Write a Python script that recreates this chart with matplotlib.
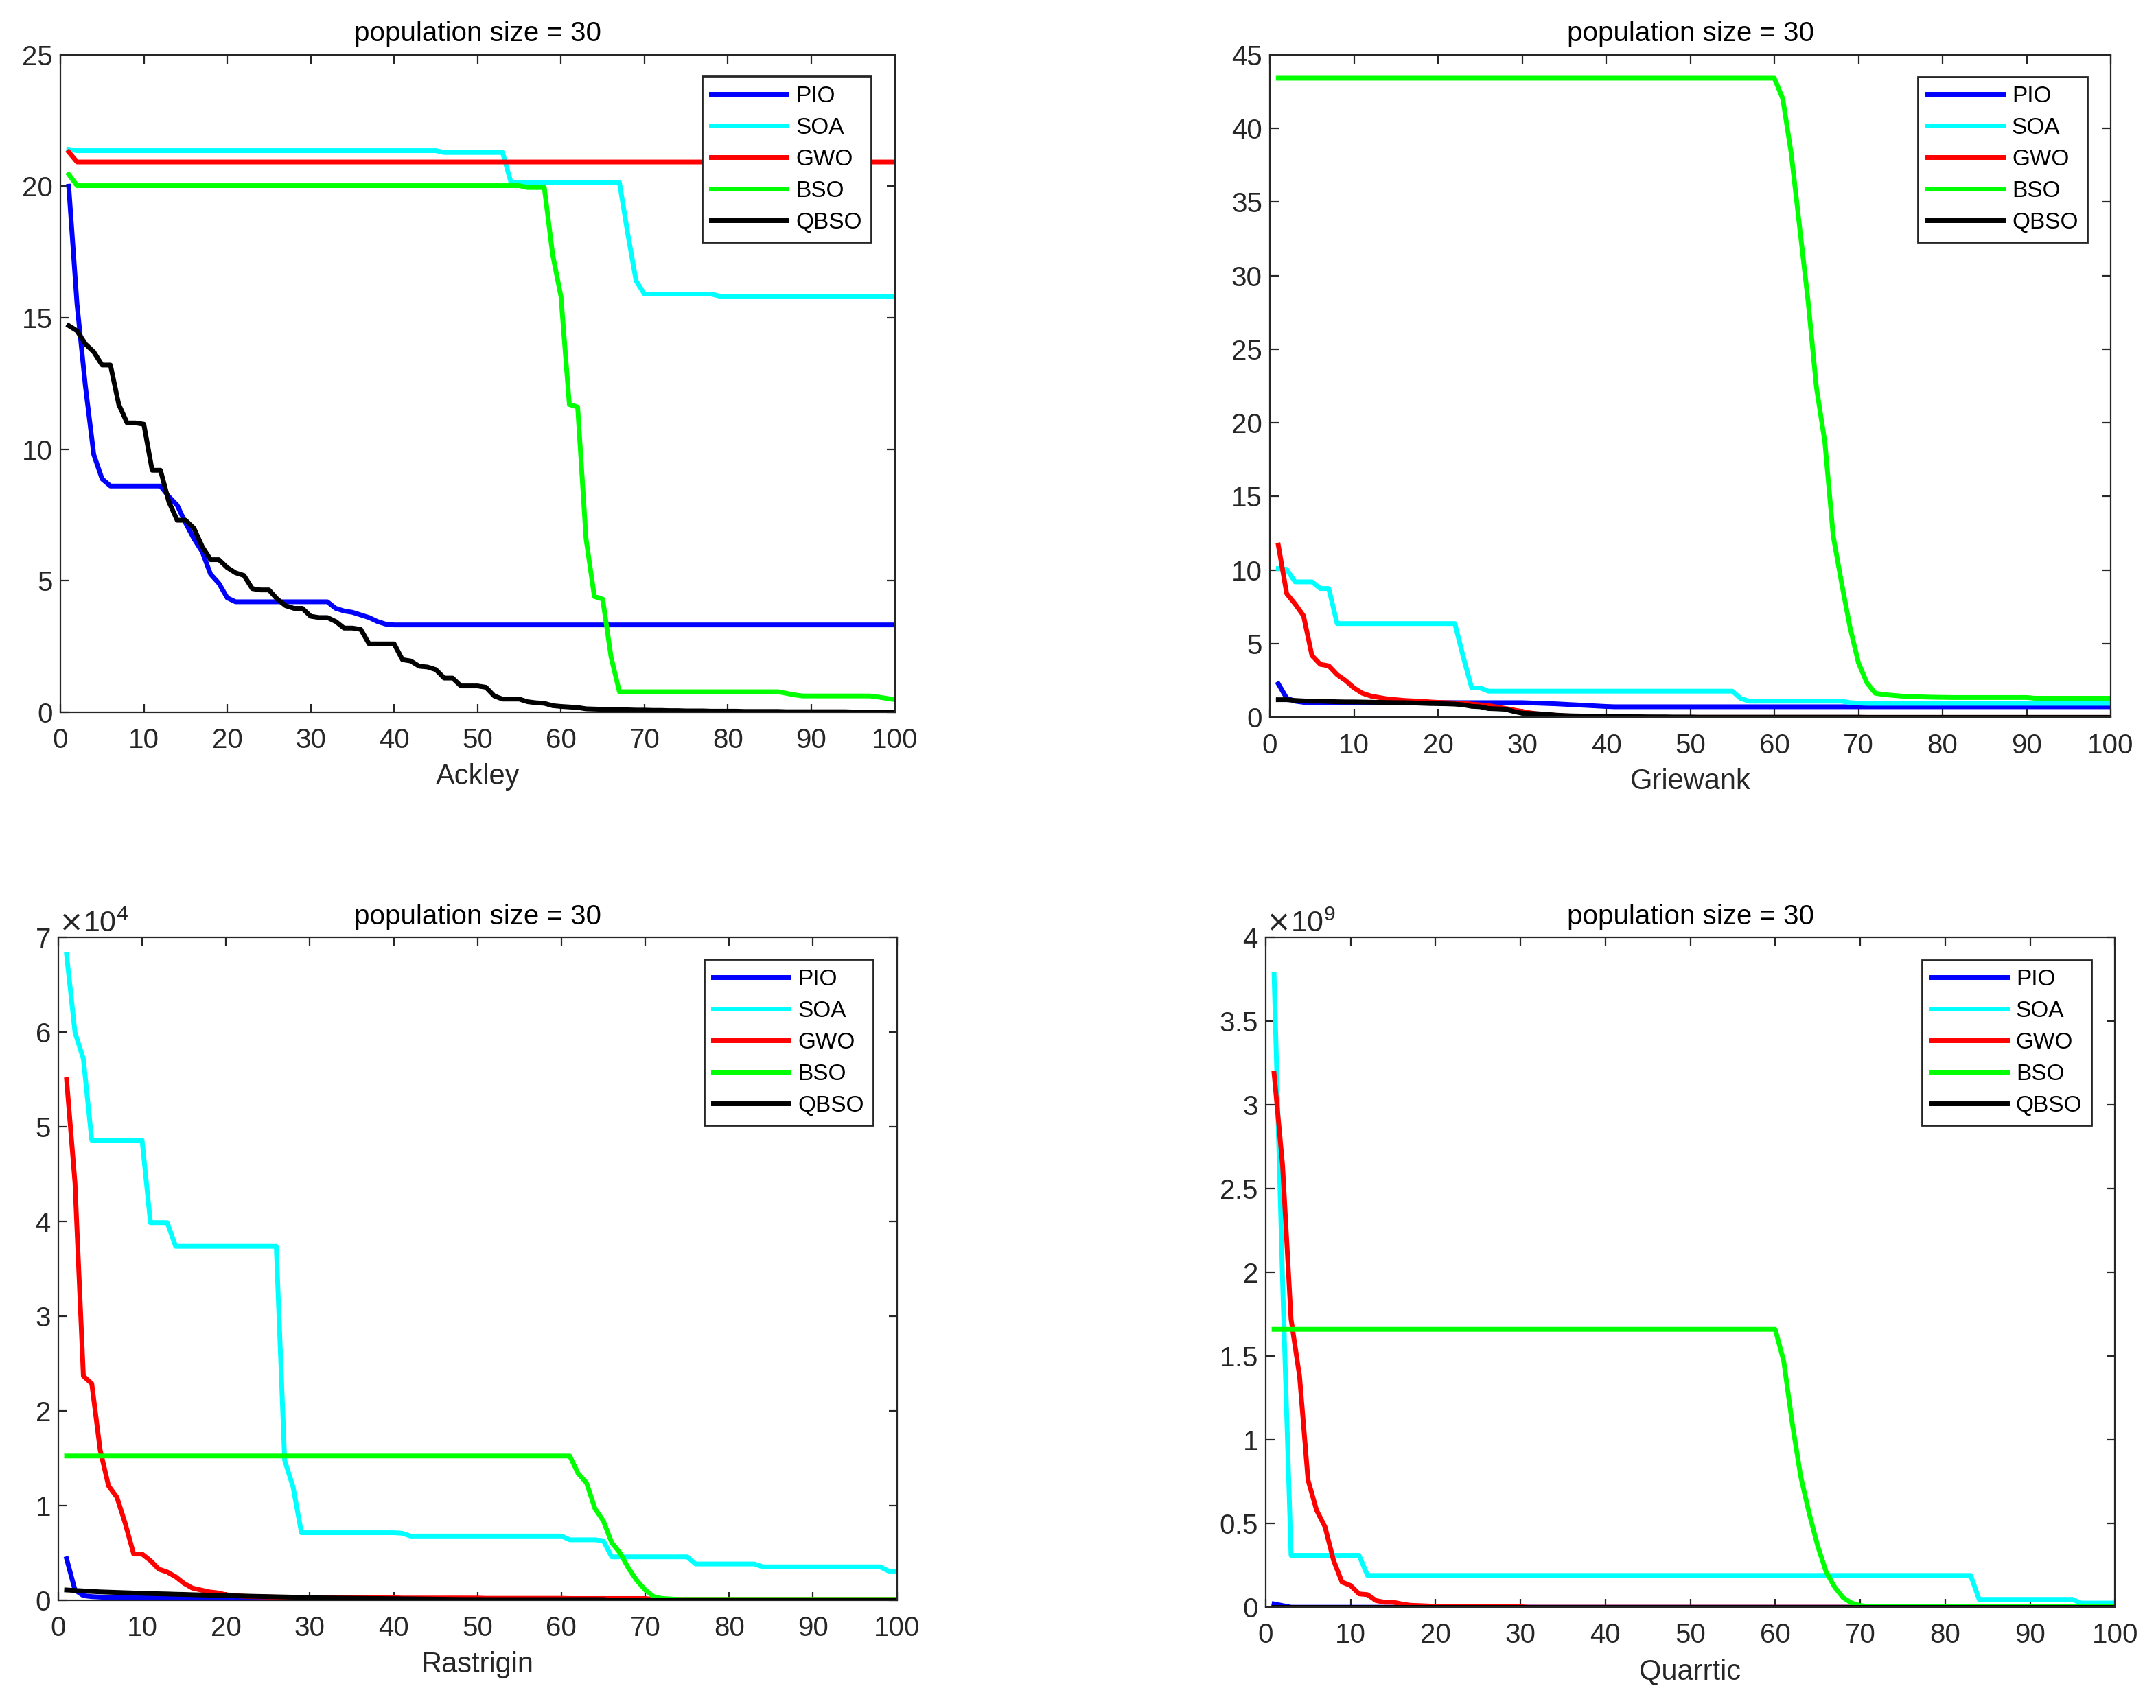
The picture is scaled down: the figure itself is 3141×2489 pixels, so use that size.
import numpy as np
import matplotlib
matplotlib.use('Agg')
import matplotlib.pyplot as plt
from matplotlib.ticker import ScalarFormatter, MultipleLocator

plt.rcParams['font.family'] = ['Liberation Sans', 'DejaVu Sans']

# ---------------------------------------------------------------------------
# Data (iterations 1..100)
# ---------------------------------------------------------------------------
iterations = list(range(1, 101))
algorithms = ['PIO', 'SOA', 'GWO', 'BSO', 'QBSO']
colors = ['#0000ff', '#00ffff', '#ff0000', '#00ff00', '#000000']

# Ackley
ackley_pio = ([20.0, 15.5, 12.4, 9.8, 8.87] + [8.6] * 7
              + [8.2, 7.87, 7.2, 6.6, 6.1, 5.25, 4.9, 4.35] + [4.2] * 12
              + [3.95, 3.85, 3.8, 3.7, 3.6, 3.45, 3.35] + [3.32] * 61)
ackley_soa = ([21.4] + [21.35] * 44 + [21.28] * 8 + [20.15] * 14
              + [18.2, 16.4] + [15.9] * 9 + [15.82] * 22)
ackley_gwo = [21.3] + [20.92] * 99
ackley_bso = ([20.45] + [20.02] * 54 + [19.95] * 3
              + [17.4, 15.8, 11.7, 11.6, 6.6, 4.4, 4.3, 2.1] + [0.78] * 20
              + [0.72, 0.66] + [0.62] * 9 + [0.58, 0.53, 0.48])
ackley_qbso = [14.7, 14.5, 14.0, 13.7, 13.2, 13.2, 11.7, 11.0, 11.0, 10.95,
               9.2, 9.2, 8.0, 7.3, 7.3, 7.0, 6.3, 5.8, 5.8, 5.5,
               5.3, 5.2, 4.7, 4.65, 4.65, 4.3, 4.05, 3.95, 3.95, 3.65,
               3.6, 3.6, 3.45, 3.2, 3.2, 3.15, 2.6, 2.6, 2.6, 2.6,
               2.0, 1.95, 1.75, 1.72, 1.62, 1.3, 1.3, 1.0, 1.0, 1.0,
               0.95, 0.62, 0.5, 0.5, 0.5, 0.4, 0.36, 0.34, 0.25, 0.22,
               0.2, 0.18, 0.13, 0.12, 0.11, 0.1, 0.1, 0.09, 0.08, 0.08,
               0.07, 0.07, 0.06, 0.06, 0.05, 0.05, 0.05, 0.04, 0.04, 0.04,
               0.04, 0.03, 0.03, 0.03, 0.03, 0.03, 0.02, 0.02, 0.02, 0.02,
               0.02, 0.02, 0.02, 0.02, 0.01, 0.01, 0.01, 0.01, 0.01, 0.01]

# Griewank
griewank_pio = ([2.28, 1.3, 1.1, 1.02] + [1.0] * 26
                + [0.98, 0.96, 0.94, 0.92, 0.89, 0.86, 0.83, 0.8, 0.77, 0.74]
                + [0.72] * 60)
griewank_soa = ([10.1, 10.05] + [9.2] * 3 + [8.75] * 2 + [6.37] * 15
                + [4.1, 2.0, 2.0] + [1.78] * 30 + [1.28] + [1.1] * 12
                + [1.0, 0.97] + [0.95] * 30)
griewank_gwo = ([11.7, 8.4, 7.7, 6.9, 4.2, 3.6, 3.5, 2.9, 2.5, 2.0,
                 1.64, 1.45, 1.35, 1.25, 1.2, 1.15, 1.12, 1.1, 1.05, 1.02,
                 1.0, 0.98, 0.95, 0.9, 0.85, 0.8, 0.7, 0.6, 0.5, 0.4,
                 0.3, 0.22, 0.18, 0.14, 0.1, 0.08, 0.06, 0.05, 0.04, 0.03,
                 0.03, 0.02, 0.02, 0.01, 0.01] + [0.0] * 55)
griewank_bso = ([43.4] * 60
                + [42.0, 38.3, 33.3, 28.3, 22.4, 18.7, 12.3, 9.1, 6.1, 3.7]
                + [2.35, 1.64, 1.55, 1.5, 1.45, 1.42, 1.4, 1.38, 1.37, 1.36]
                + [1.35] * 10 + [1.3] * 10)
griewank_qbso = ([1.2, 1.2, 1.15, 1.12, 1.1, 1.1, 1.08, 1.06, 1.05, 1.05,
                  1.04, 1.03, 1.02, 1.01, 1.0, 1.0, 0.98, 0.96, 0.94, 0.93,
                  0.92, 0.9, 0.85, 0.75, 0.72, 0.6, 0.58, 0.55, 0.4, 0.28,
                  0.26, 0.24, 0.2, 0.15, 0.12, 0.1, 0.09, 0.08, 0.07, 0.06,
                  0.05, 0.05, 0.04, 0.04, 0.03, 0.03, 0.03, 0.02, 0.02, 0.02]
                 + [0.01] * 20 + [0.0] * 30)

# Rastrigin
rastrigin_pio = [4400, 1100, 500, 400, 350] + [300] * 15 + [50] * 80
rastrigin_soa = ([68200, 60000, 57200] + [48600] * 7 + [39900] * 3
                 + [37400] * 13 + [14800, 12000] + [7150] * 12 + [7100]
                 + [6800] * 19 + [6400] * 4 + [6300] + [4600] * 10
                 + [3850] * 8 + [3550] * 15 + [3100] * 2)
rastrigin_gwo = ([55000, 44100, 23700, 22900, 15900, 12100, 10900, 8100, 4900, 4900,
                  4200, 3300, 3000, 2500, 1800, 1300, 1100, 900, 800, 600,
                  500, 450, 400, 380, 360, 340, 320, 300, 300, 300]
                 + [280] * 10 + [250] * 10 + [220] * 10 + [200] * 10 + [100] * 30)
rastrigin_bso = ([15250] * 61
                 + [13400, 12400, 9700, 8400, 6100, 5000, 3400, 2100, 1100, 400]
                 + [200, 150] + [100] * 27)
rastrigin_qbso = ([1100, 1050, 1000, 950, 900, 870, 840, 810, 780, 750,
                   720, 700, 680, 650, 630, 600, 580, 550, 520, 500,
                   480, 460, 440, 420, 400, 380, 360, 340, 320, 300,
                   280, 260, 250, 240, 230, 220, 210, 200, 190, 180,
                   170, 160, 150, 140, 130, 120, 110, 100, 100, 100]
                  + [90] * 15 + [0] * 35)

# Quartic (x 1e9)
quartic_pio = [0.02e9, 0.01e9] + [0.0] * 98
quartic_soa = ([3.78e9, 1.95e9] + [0.31e9] * 9 + [0.19e9] * 72
               + [0.047e9] * 12 + [0.025e9] * 5)
quartic_gwo = ([3.19e9, 2.64e9, 1.72e9, 1.38e9, 0.76e9, 0.58e9, 0.48e9, 0.28e9,
                0.15e9, 0.13e9, 0.08e9, 0.075e9, 0.04e9, 0.03e9, 0.03e9, 0.02e9,
                0.012e9, 0.01e9, 0.008e9, 0.005e9] + [0.003e9] * 10 + [0.0] * 70)
quartic_bso = ([1.66e9] * 60
               + [1.47e9, 1.1e9, 0.78e9, 0.56e9, 0.365e9, 0.21e9, 0.12e9,
                  0.057e9, 0.025e9, 0.01e9] + [0.005e9] * 30)
quartic_qbso = [0.0] * 100

panels = [
    ('Ackley', [ackley_pio, ackley_soa, ackley_gwo, ackley_bso, ackley_qbso], 25, 5, False),
    ('Griewank', [griewank_pio, griewank_soa, griewank_gwo, griewank_bso, griewank_qbso], 45, 5, False),
    ('Rastrigin', [rastrigin_pio, rastrigin_soa, rastrigin_gwo, rastrigin_bso, rastrigin_qbso], 7e4, 1e4, True),
    ('Quarrtic', [quartic_pio, quartic_soa, quartic_gwo, quartic_bso, quartic_qbso], 4e9, 0.5e9, True),
]

positions = [
    [0.028, 0.583, 0.387, 0.385],
    [0.589, 0.580, 0.390, 0.388],
    [0.027, 0.063, 0.389, 0.388],
    [0.587, 0.059, 0.394, 0.392],
]


class MatlabFormatter(ScalarFormatter):
    """Scientific offset like MATLAB: '3', '2.5', '0.5' (no padded zeros)."""
    def _set_format(self):
        self.format = '%g'
        if self._useMathText:
            self.format = r'$\mathdefault{%s}$' % self.format


# ---------------------------------------------------------------------------
# Figure
# ---------------------------------------------------------------------------
fig = plt.figure(figsize=(3141 / 200, 2489 / 200), dpi=200)
text_color = '#262626'
fs = 14.5

for (name, series, ymax, ystep, sci), pos in zip(panels, positions):
    ax = fig.add_axes(pos)
    for label, values, color in zip(algorithms, series, colors):
        assert len(values) == 100, (name, label, len(values))
        ax.plot(iterations, values, color=color, lw=2.5, label=label)

    ax.set_xlim(0, 100)
    ax.set_ylim(0, ymax)
    ax.xaxis.set_major_locator(MultipleLocator(10))
    ax.yaxis.set_major_locator(MultipleLocator(ystep))
    if sci:
        fmt = MatlabFormatter(useMathText=True)
        fmt.set_powerlimits((0, 0))
        ax.yaxis.set_major_formatter(fmt)
        ax.yaxis.get_offset_text().set_fontsize(fs + 1)
        ax.yaxis.get_offset_text().set_color(text_color)

    ax.tick_params(direction='in', top=True, right=True, length=4.5, width=0.8,
                   labelsize=fs, colors=text_color)
    ax.tick_params(axis='x', pad=8)
    ax.tick_params(axis='y', pad=4)
    for sp in ax.spines.values():
        sp.set_color(text_color)
        sp.set_linewidth(0.8)

    ax.set_title('population size = 30', fontsize=fs, color='black', pad=7)
    ax.set_xlabel(name, fontsize=fs + 0.5, color=text_color, labelpad=5)

    leg = ax.legend(loc='upper right', bbox_to_anchor=(0.972, 0.967),
                    borderaxespad=0, fontsize=12, handlelength=3.3,
                    handletextpad=0.4, labelspacing=0.45, fancybox=False,
                    framealpha=1, edgecolor=text_color)
    leg.get_frame().set_linewidth(1.0)

fig.savefig('out.png', dpi=200)
